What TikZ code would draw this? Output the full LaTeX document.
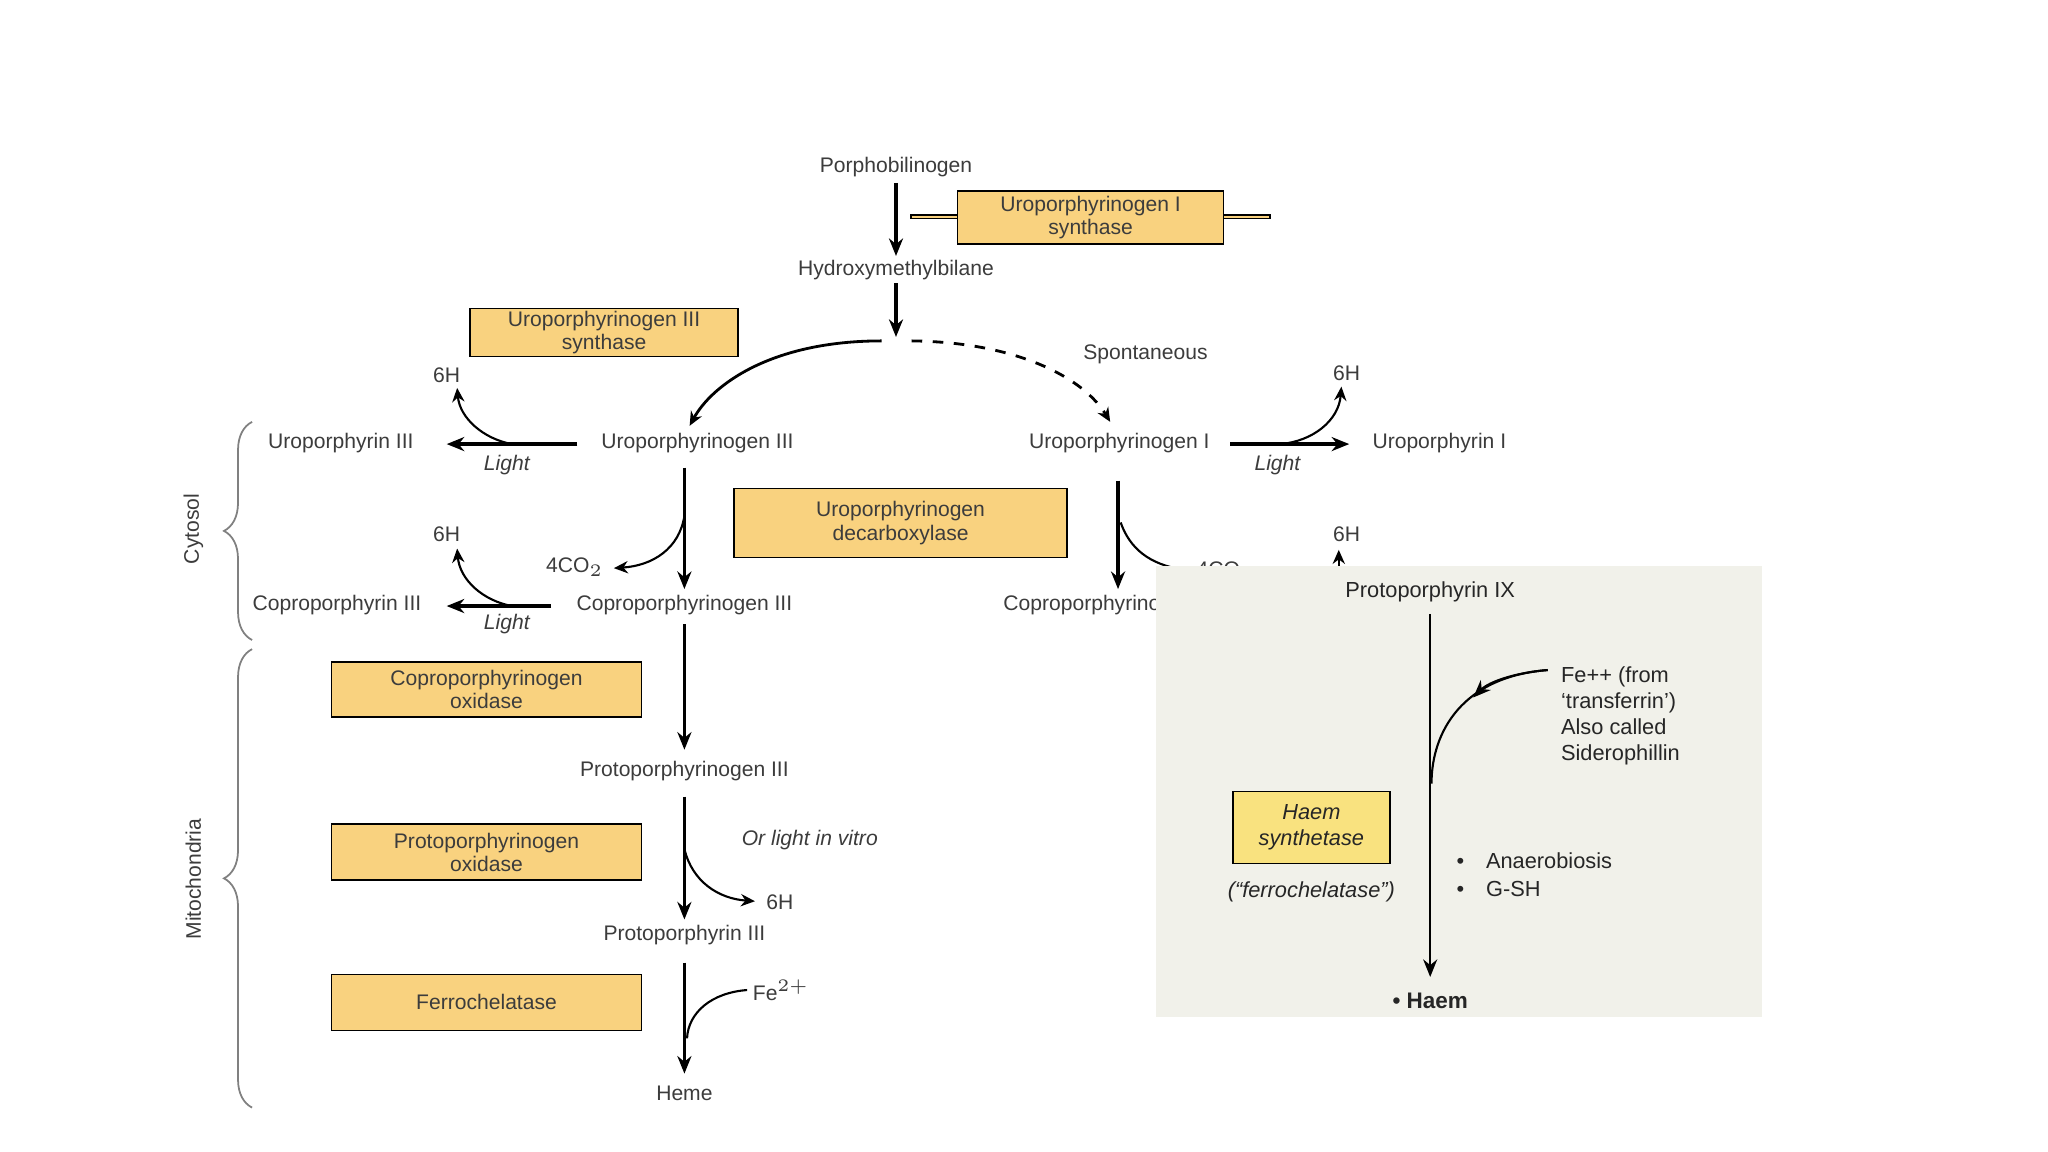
\documentclass[tikz,border=0pt]{standalone}
\usepackage{fontspec}
\setmainfont{Liberation Sans}
\usetikzlibrary{arrows.meta,decorations.pathreplacing}
\definecolor{tx}{HTML}{3C3C3C}
\definecolor{enz}{HTML}{F9D27F}
\definecolor{enz2}{HTML}{F9E27F}
\definecolor{pan}{HTML}{F1F1EA}
\begin{document}
\begin{tikzpicture}[x=0.013061cm,y=-0.013061cm,
  lab/.style={text=tx,font=\fontsize{6}{7}\selectfont,inner sep=1pt},
  it/.style={lab,font=\fontsize{6}{7}\selectfont\itshape},
  box/.style={draw=black,line width=0.5pt,fill=enz,text=tx,align=center,font=\fontsize{6}{6.6}\selectfont,inner sep=0pt},
  ar/.style={-{Stealth[length=5pt,width=4pt]},line width=1pt},
  ca/.style={-{Stealth[length=4pt,width=3.5pt]},line width=0.6pt},
  br/.style={decorate,decoration={brace,amplitude=8pt},draw=gray,line width=0.5pt}]
\useasboundingbox (0,0) rectangle (1568,882);
\fill[white] (0,0) rectangle (1568,882);
% top
\node[lab] (pbg) at (686,128) {Porphobilinogen};
\node[lab] (hmb) at (686,207) {Hydroxymethylbilane};
\node[box,minimum width=204\pgflinewidth] (e1) at (835,166) {};
\node[box] (e1) [minimum width=2.66cm,minimum height=0.535cm] at (835,166.5) {Uroporphyrinogen I\\synthase};
\node[box,minimum width=2.68cm,minimum height=0.48cm] (e2) at (462.5,254.5) {Uroporphyrinogen III\\synthase};
\coordinate (a1) at (686,140); \coordinate (a2) at (686,196);
\draw[ar] (a1) -- (a2);
\coordinate (b1) at (686,217); \coordinate (b2) at (686,258);
\draw[ar] (b1) -- (b2);
\node[lab] (u3) at (534,339) {Uroporphyrinogen III};
\node[lab] (u1) at (857,339) {Uroporphyrinogen I};
\coordinate (c1) at (675,261); \coordinate (c2) at (698,261);
\draw[ca,line width=0.8pt] (c1) .. controls (590,261) and (545,295) .. (528,326);
\draw[ca,line width=0.8pt,dashed] (c2) .. controls (780,262) and (830,290) .. (850,323);
\node[lab] (sp) at (877,271) {Spontaneous};
% uroporphyrin III
\node[lab] (up3) at (261,339) {Uroporphyrin III};
\coordinate (d1) at (442,340); \coordinate (d2) at (342,340);
\draw[ar,line width=0.9pt] (d1) -- (d2);
\node[lab] (h1) at (342,287) {6H};
\coordinate (d3) at (392,340);
\draw[ca] (d3) .. controls (370,336) and (352,320) .. (350,297);
\node[it] (l1) at (388,356) {Light};
% uroporphyrin I
\node[lab] (up1) at (1102,339) {Uroporphyrin I};
\coordinate (f1) at (942,340); \coordinate (f2) at (1033,340);
\draw[ar,line width=0.9pt] (f1) -- (f2);
\coordinate (f3) at (980,340);
\draw[ca] (f3) .. controls (1005,338) and (1025,322) .. (1027,296);
\node[lab] (h2) at (1031,286) {6H};
\node[it] (l2) at (978,356) {Light};
% decarboxylase
\node[box,minimum width=3.33cm,minimum height=0.69cm] (e3) at (689.5,400.5) {Uroporphyrinogen\\decarboxylase};
\coordinate (g1) at (524,358); \coordinate (g2) at (524,451);
\draw[ar] (g1) -- (g2);
\coordinate (g3) at (524,395);
\draw[ca] (g3) .. controls (520,420) and (500,433) .. (470,435);
\node[lab] (co2) at (440,434) {4CO$_2$};
\node[lab] (cp3g) at (524,463) {Coproporphyrinogen III};
\node[lab] (cp3) at (258,463) {Coproporphyrin III};
\coordinate (k1) at (422,464); \coordinate (k2) at (342,464);
\draw[ar,line width=0.9pt] (k1) -- (k2);
\coordinate (k3) at (392,464);
\draw[ca] (k3) .. controls (370,460) and (352,444) .. (350,420);
\node[lab] (h3) at (342,409) {6H};
\node[it] (l3) at (388,478) {Light};
% right branch (partly hidden)
\coordinate (m1) at (856,368); \coordinate (m2) at (856,451);
\draw[ar] (m1) -- (m2);
\coordinate (m3) at (858,400);
\draw[line width=0.6pt] (m3) .. controls (865,420) and (880,432) .. (905,436);
\node[lab,anchor=west] (cp1) at (765,463) {Coproporphyrinogen I};
\node[lab] (co2b) at (938,437) {4CO$_2$};
\node[lab] (h4) at (1031,409) {6H};
\coordinate (n1) at (1025,440); \coordinate (n2) at (1025,421);
\draw[ca] (n1) -- (n2);
% panel
\fill[pan] (885,433) rectangle (1349,779);
\node[lab,font=\fontsize{6.2}{7}\selectfont,text=black!85] (pp9) at (1095,453) {Protoporphyrin IX};
\node[lab,font=\fontsize{6.4}{7}\selectfont\bfseries,text=black!85] (haem) at (1095,766) {\textbullet\ Haem};
\draw[-{Stealth[length=5pt,width=4pt]},line width=0.6pt] (pp9.south |- 0,470) -- (1095,748);
\coordinate (fe1) at (1185,513);
\draw[line width=0.6pt] (fe1) .. controls (1120,518) and (1096,560) .. (1096,600);
\draw[-{Stealth[length=5pt,width=4pt]},line width=0.6pt] (1185,513) .. controls (1160,515) and (1140,522) .. (1128,534);
\node[lab,font=\fontsize{6.2}{7.4}\selectfont,text=black!85,align=left,anchor=north west] (fe) at (1192,507) {Fe++ (from\\`transferrin')\\Also called\\Siderophillin};
\node[box,fill=enz2,font=\fontsize{6.2}{7.4}\selectfont\itshape,text=black!85,minimum width=1.57cm,minimum height=0.72cm] (hs) at (1004,633.5) {Haem\\synthetase};
\node[it,font=\fontsize{6.2}{7}\selectfont\itshape,text=black!85] (fc) at (1004,683) {(``ferrochelatase'')};
\node[lab,font=\fontsize{6.2}{7}\selectfont,text=black!85,anchor=west] (an) at (1112,659) {\textbullet\quad Anaerobiosis};
\node[lab,font=\fontsize{6.2}{7}\selectfont,text=black!85,anchor=west] (gs) at (1112,681) {\textbullet\quad G-SH};
% mitochondria part
\node[box,minimum width=3.10cm,minimum height=0.55cm] (e4) at (372.5,528) {Coproporphyrinogen\\oxidase};
\coordinate (p1) at (524,478); \coordinate (p2) at (524,574);
\draw[ar] (p1) -- (p2);
\node[lab] (pg3) at (524,590) {Protoporphyrinogen III};
\node[box,minimum width=3.10cm,minimum height=0.56cm] (e5) at (372.5,652.5) {Protoporphyrinogen\\oxidase};
\coordinate (q1) at (524,610); \coordinate (q2) at (524,704);
\draw[ar] (q1) -- (q2);
\coordinate (q3) at (524,650);
\draw[ca] (q3) .. controls (530,675) and (550,688) .. (578,690);
\node[lab] (h5) at (597,691) {6H};
\node[it] (ol) at (620,643) {Or light in vitro};
\node[lab] (pp3) at (524,716) {Protoporphyrin III};
\node[box,minimum width=3.10cm,minimum height=0.56cm] (e6) at (372.5,767.5) {Ferrochelatase};
\coordinate (r1) at (524,737); \coordinate (r2) at (524,822);
\draw[ar] (r1) -- (r2);
\coordinate (r3) at (572,758);
\draw[line width=0.6pt] (r3) .. controls (545,760) and (527,775) .. (526,795);
\node[lab] (fe2) at (598,758) {Fe$^{2+}$};
\node[lab] (heme) at (524,837) {Heme};
% braces
\coordinate (s1) at (193,490); \coordinate (s2) at (193,323);
\draw[br] (s1) -- (s2);
\coordinate (t1) at (193,848); \coordinate (t2) at (193,497);
\draw[br] (t1) -- (t2);
\node[lab,rotate=90] (cy) at (148,405) {Cytosol};
\node[lab,rotate=90] (mi) at (148,673) {Mitochondria};
\end{tikzpicture}
\end{document}
